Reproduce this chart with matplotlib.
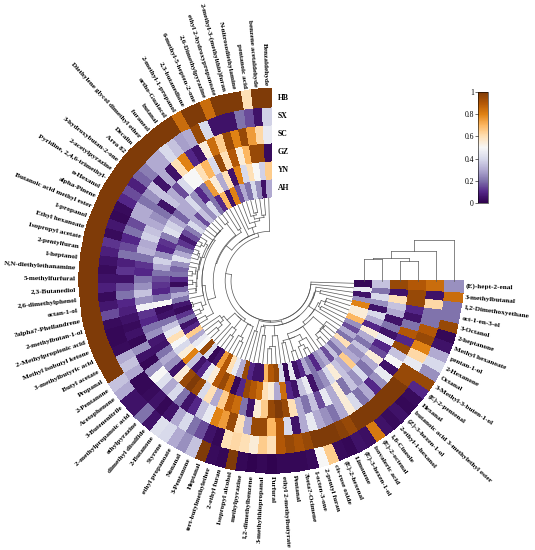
import numpy as np
import matplotlib
matplotlib.use("Agg")
import matplotlib.pyplot as plt
from matplotlib.cm import ScalarMappable
from matplotlib.colors import Normalize

# compounds in drawing order, counter-clockwise from 12 o'clock
compounds = [
    "Benzaldehyde", "benzene acetaldehyde", "pentanoic acid", "N-nitrosodiethylamine",
    "2-methyl-3-(methylthio)furan", "ethyl 2-hydroxypropanoate", "2,6-Dimethylpyrazine",
    "6-methyl-5-hepten-2-one", "2,3-butanedione", "2-methyl-1-propanol", "ortho-Guaiacol",
    "butanal", "furaneol", "Diethylene glycol dimethyl ether", "Decalin", "Area 82",
    "3-hydroxybutan-2-one", "2-acetylpyrazine", "Pyridine, 2,4,6-trimethyl-", "n-Hexanol",
    "alpha-Pinene", "Butanoic acid methyl ester", "1-propanol", "Ethyl hexanoate",
    "Isopropyl acetate", "2-pentylfuran", "1-heptanol", "N,N-diethylethanamine",
    "5-methylfurfural", "2,3-Butanediol", "2,6-dimethylphenol", "octan-1-ol",
    "?alpha?-Phellandrene", "2-methylbutan-1-ol", "2-Methylpropionic acid",
    "Methyl isobutyl ketone", "3-methylbutyric acid", "Butyl acetate", "Propanal",
    "2-Pentanone", "Acetophenone", "3-Butenenitrile", "2-methylpropanoic acid",
    "ethylpyrazine", "dimethyl disulfide", "2-Butanone", "Styrene", "ethyl propanoate",
    "Nonanal", "3-Pentanone", "Heptanal", "tert-butylmethylether", "2-ethyl furan",
    "Isopropyl alcohol", "methylpyrazine", "1,2-dimethylbenzene", "3-methylthiopropanal",
    "Furfural", "ethyl 2-methylbutyrate", "Pentanal", "?beta?-Ocimene", "1-octen-3-one",
    "2-pentyl furan", "cis-rose oxide", "(E)-2-hexenal", "Limonene", "(E)-3-hexen-1-ol",
    "isovaleric acid", "(E)-2-octenal", "1,8-Cineole", "2-ethyl-1-hexanol",
    "(Z)-3-hexen-1-ol", "butanoic acid 3-methylethyl ester", "Hexanal", "(E)-2-pentenal",
    "3-Methyl-3-buten-1-ol", "Octanal", "2-Hexanone", "pentan-1-ol", "Methyl hexanoate",
    "2-heptanone", "3-Octanol", "oct-1-en-3-ol", "1,2-Dimethoxyethane", "3-methylbutanal",
    "(E)-hept-2-enal",
]

# rings from inside to outside
regions = ["AH", "YN", "GZ", "SC", "SX", "HB"]

HB = [1, 1, .6, 1, 1, 1, .85, 1, 1, .85,
      1, 1, 1, 1, 1, 1, 1, 1, 1, 1,
      1, 1, 1, 1, 1, 1, 1, 1, 1, 1,
      1, 1, 1, 1, 1, 1, 1, 1, 1, .35,
      .3, .05, .05, .2, .05, .42, .4, .3, .25, .35,
      1, .03, .02, 1, .02, .01, .02, .01, .02, .02,
      .02, .03, .5, .65, .03, .02, .05, .04, .82, .05,
      .03, .05, .02, .03, .1, .95, .25, .4, .3, .05,
      .02, .95, .2, .2, .85, .25]

SX = [.38, .05, .15, .2, .05, .05, .05, .4, .95, .3,
      .28, .35, .4, .3, .3, .22, .18, .08, .15, .1,
      .03, .02, .06, .03, .12, .08, .05, .03, .05, .08,
      .03, .06, .15, .03, .02, .02, .03, .3, .35, .3,
      .02, .02, .03, .05, .02, .05, .3, .4, .2, .15,
      .05, .02, .6, .62, .6, .55, .65, .6, .9, .95,
      .92, .95, 1, 1, 1, .98, .95, 1, 1, 1,
      1, 1, 1, 1, .95, .95, .45, .62, .8, .95,
      .9, .2, .2, .62, .05, .85]

SC = [.45, .62, .75, .95, .8, .95, .65, .85, .55, .05,
      .1, .8, .6, .05, .3, .05, .35, .25, .2, .3,
      .3, .15, .2, .1, .15, .2, .08, .12, .05, .15,
      .2, .1, .08, .05, .03, .05, .02, .25, .05, .02,
      .25, .5, .42, .3, .4, .2, .05, .1, .35, .45,
      .8, .75, .95, .6, .3, .95, .95, .7, .9, .4,
      .05, .3, .45, .3, .25, .2, .3, .55, .4, .2,
      .3, .1, .25, .45, .05, .5, .35, .95, .1, .9,
      .2, .05, .1, .95, .95, .9]

GZ = [.03, .95, .95, .7, .55, .9, .6, .95, .4, .7,
      .6, .5, .5, .4, .15, .3, .35, .05, .2, .25,
      .3, .35, .38, .3, .32, .2, .12, .1, .2, .25,
      .35, .25, .48, .12, .1, .2, .25, .06, .05, .2,
      .3, .25, .05, .55, .95, 1, .95, .4, .6, .3,
      .65, .9, .85, .2, .05, .55, .65, .95, 1, .95,
      .6, .3, .2, .35, .15, .45, .3, .55, .2, .35,
      .25, .4, .2, .3, .55, .15, .1, .45, .05, .2,
      .05, .3, .35, .6, .05, .95]

YN = [.65, .38, .5, .6, .4, .8, .05, .6, .3, .55,
      .75, .2, .1, .25, .4, .3, .3, .18, .3, .38,
      .42, .22, .12, .1, .25, .38, .3, .2, .15, .12,
      .1, .2, .5, .03, .05, .2, .35, .45, .6, .5,
      .4, .55, .8, .35, .05, .1, .45, .55, .9, .95,
      .85, .02, .1, .95, .9, .85, .6, .55, .3, .85,
      .1, .05, .35, .45, .05, .2, .25, .4, .55, .35,
      .3, .65, .3, .25, .35, .2, .3, .55, .1, .3,
      .4, .05, .25, .4, .2, .35]

AH = [.3, .05, .25, .4, .2, .3, .15, .8, .05, .7,
      .1, .2, .4, .25, .35, .15, .3, .4, .22, .15,
      .06, .12, .2, .3, .42, .25, .18, .2, .1, .03,
      .18, .3, .2, .06, .03, .12, .2, .05, .1, .65,
      .3, .45, .5, .95, .4, .02, .05, .75, .9, .6,
      .45, .3, .95, .1, .05, .05, .7, .9, .95, .4,
      .02, .45, .05, .1, .3, .2, .1, .25, .3, .15,
      .35, .2, .3, .6, .2, .3, .15, .25, .7, .55,
      .55, .8, .25, .05, .45, .02]

cbar_ticks = [0, 0.2, 0.4, 0.6, 0.8, 1]


def ordered_linkage(vectors):
    """Average linkage that only joins neighbours, so the leaf order is kept."""
    dist = np.sqrt(((vectors[:, None, :] - vectors[None, :, :]) ** 2).sum(-1))
    groups = [[i] for i in range(len(vectors))]
    pos = [float(i) for i in range(len(vectors))]
    hgt = [0.0] * len(vectors)
    merges = []
    while len(groups) > 1:
        scores = [dist[np.ix_(groups[k], groups[k + 1])].mean() for k in range(len(groups) - 1)]
        k = int(np.argmin(scores))
        h = max(scores[k], hgt[k], hgt[k + 1])
        merges.append((pos[k], hgt[k], pos[k + 1], hgt[k + 1], h))
        groups[k] = groups[k] + groups.pop(k + 1)
        pos[k] = (pos[k] + pos.pop(k + 1)) / 2
        hgt[k] = h
        hgt.pop(k + 1)
    return merges


values = np.array([AH, YN, GZ, SC, SX, HB])
n_cols = len(compounds)
r_in, ring_w = 84.0, 18.0
r_out = r_in + ring_w * len(regions)
step = 270.0 / n_cols

fig = plt.figure(figsize=(5.35, 5.5), dpi=100)
ax = fig.add_axes([0, 0, 1, 1])
ax.set_xlim(-271, 264)
ax.set_ylim(-269, 281)
ax.set_aspect("equal")
ax.axis("off")

# heatmap rings
theta_edges = np.deg2rad(90 + step * np.arange(n_cols + 1))
r_edges = r_in + ring_w * np.arange(len(regions) + 1)
T, R = np.meshgrid(theta_edges, r_edges)
ax.pcolormesh(R * np.cos(T), R * np.sin(T), values, cmap="PuOr_r", vmin=0, vmax=1,
              shading="flat", edgecolors="face", linewidth=0.2)

lab_font = dict(family="Liberation Serif", weight="bold", size=5.2)

# compound labels around the circle
for k, name in enumerate(compounds):
    th = 90 + step * (k + 0.5)
    x = (r_out + 3) * np.cos(np.deg2rad(th))
    y = (r_out + 3) * np.sin(np.deg2rad(th))
    if th < 270:
        ax.text(x, y, name, rotation=th - 180, ha="right", va="center",
                rotation_mode="anchor", **lab_font)
    else:
        ax.text(x, y, name, rotation=th - 360, ha="left", va="center",
                rotation_mode="anchor", **lab_font)

# region labels in the gap
for i, reg in enumerate(regions):
    ax.text(7, r_in + ring_w * (i + 0.5), reg, ha="left", va="center",
            family="Liberation Serif", weight="bold", size=5.5)

# compound dendrogram inside the ring
line_kw = dict(color="#555555", lw=0.5)
col_tree = ordered_linkage(values.T)
hmax = max(m[4] for m in col_tree)
r_leaf, r_root = r_in - 1, 40.0


def to_r(h):
    return r_leaf - h / hmax * (r_leaf - r_root)


def to_th(p):
    return np.deg2rad(90 + step * (p + 0.5))


for p1, h1, p2, h2, h in col_tree:
    for p, hc in ((p1, h1), (p2, h2)):
        th = to_th(p)
        ax.plot([to_r(hc) * np.cos(th), to_r(h) * np.cos(th)],
                [to_r(hc) * np.sin(th), to_r(h) * np.sin(th)], **line_kw)
    arc = np.linspace(to_th(p1), to_th(p2), 30)
    ax.plot(to_r(h) * np.cos(arc), to_r(h) * np.sin(arc), **line_kw)

# region dendrogram on the open end of the ring
row_tree = ordered_linkage(values)
hmax_r = max(m[4] for m in row_tree)


def to_y(h):
    return h / hmax_r * 41


def to_x(p):
    return r_in + ring_w * (p + 0.5)


for p1, h1, p2, h2, h in row_tree:
    ax.plot([to_x(p1), to_x(p1)], [to_y(h1), to_y(h)], **line_kw)
    ax.plot([to_x(p2), to_x(p2)], [to_y(h2), to_y(h)], **line_kw)
    ax.plot([to_x(p1), to_x(p2)], [to_y(h), to_y(h)], **line_kw)

# colour bar
cax = fig.add_axes([478 / 535, 347 / 550, 10 / 535, 111 / 550])
cb = fig.colorbar(ScalarMappable(Normalize(0, 1), cmap="PuOr_r"), cax=cax, ticks=cbar_ticks)
cb.outline.set_linewidth(0.4)
cax.yaxis.set_ticks_position("left")
cax.set_yticklabels([f"{t:g}" for t in cbar_ticks], family="Liberation Serif", size=5.5)
cax.tick_params(width=0.4, length=2, pad=1)

fig.savefig("out.png", dpi=100)
